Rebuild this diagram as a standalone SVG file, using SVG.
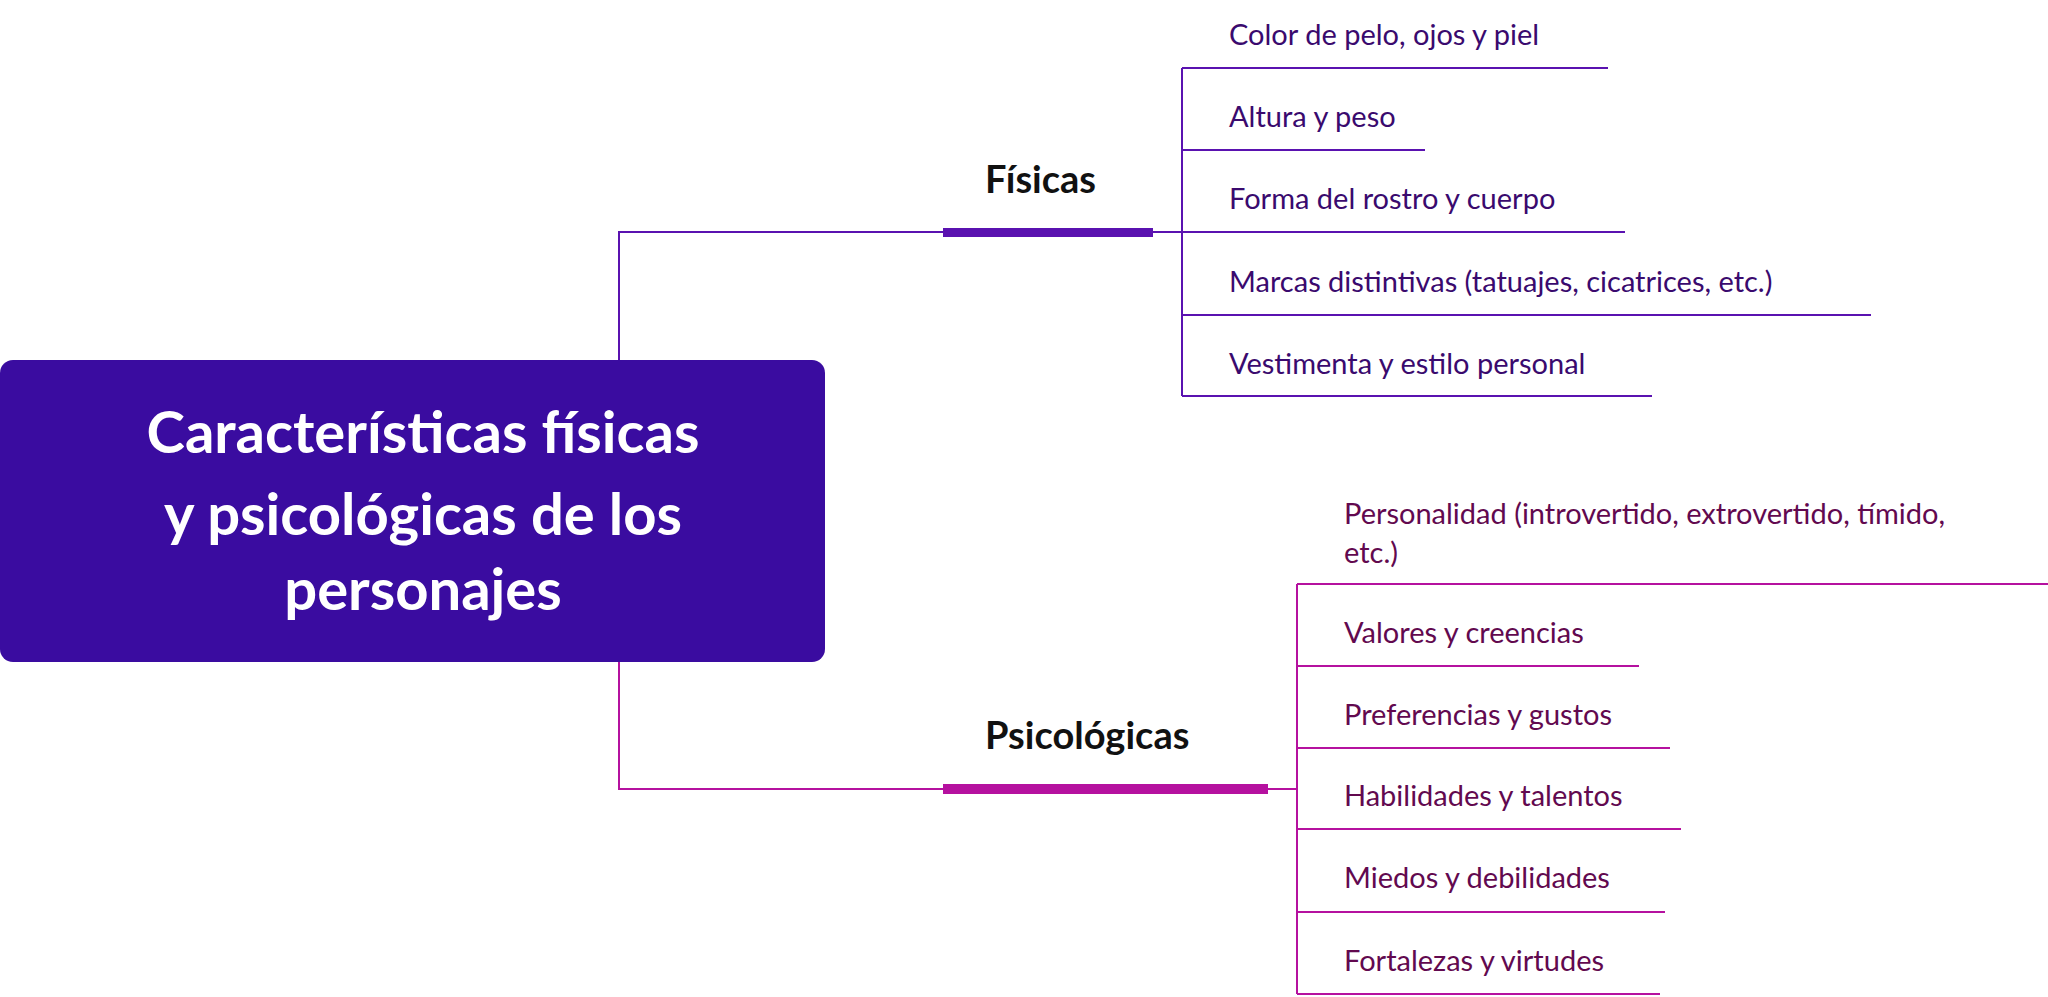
<svg xmlns="http://www.w3.org/2000/svg" width="2048" height="997" viewBox="0 0 2048 997">
<style>
.t{font-family:Lato,"Open Sans",sans-serif;}
.title{font-size:58px;font-weight:bold;fill:#fff;text-anchor:middle}
.br{font-size:38px;font-weight:bold;fill:#111}
.p{font-size:29px;fill:#3a0a6e}
.q{font-size:29px;fill:#62094f}
.lp{stroke:#5a12b0;stroke-width:2;fill:none}
.lq{stroke:#b5119f;stroke-width:2;fill:none}
</style>
<rect width="2048" height="997" fill="#fff"/>
<g id="connectors">
<path class="lp" d="M619 360 V232 H1182"/>
<rect x="943" y="228" width="210" height="9" fill="#5a12b0"/>
<path class="lp" d="M1182 68 V396 M1182 68 H1608 M1182 150 H1425 M1182 232 H1625 M1182 315 H1871 M1182 396 H1652"/>
<path class="lq" d="M619 662 V789 H1297"/>
<rect x="943" y="784" width="325" height="10" fill="#b5119f"/>
<path class="lq" d="M1297 584 V994 M1297 584 H2048 M1297 666 H1639 M1297 748 H1670 M1297 829 H1681 M1297 912 H1665 M1297 994 H1660"/>
</g>
<g id="root">
<rect x="0" y="360" width="825" height="302" rx="13" fill="#3a0ca0"/>
<text class="t title" x="423"><tspan x="423" y="453">Características físicas</tspan><tspan x="423" y="535">y psicológicas de los</tspan><tspan x="423" y="610">personajes</tspan></text>
</g>
<g id="fisicas"><text class="t br" x="985" y="193">Físicas</text></g>
<g id="psicologicas"><text class="t br" x="985" y="749">Psicológicas</text></g>
<g id="f1"><text class="t p" x="1229" y="45">Color de pelo, ojos y piel</text></g>
<g id="f2"><text class="t p" x="1229" y="127">Altura y peso</text></g>
<g id="f3"><text class="t p" x="1229" y="209">Forma del rostro y cuerpo</text></g>
<g id="f4"><text class="t p" x="1229" y="292">Marcas distintivas (tatuajes, cicatrices, etc.)</text></g>
<g id="f5"><text class="t p" x="1229" y="374">Vestimenta y estilo personal</text></g>
<g id="p1"><text class="t q" x="1344"><tspan x="1344" y="524">Personalidad (introvertido, extrovertido, tímido,</tspan><tspan x="1344" y="563">etc.)</tspan></text></g>
<g id="p2"><text class="t q" x="1344" y="643">Valores y creencias</text></g>
<g id="p3"><text class="t q" x="1344" y="725">Preferencias y gustos</text></g>
<g id="p4"><text class="t q" x="1344" y="806">Habilidades y talentos</text></g>
<g id="p5"><text class="t q" x="1344" y="888">Miedos y debilidades</text></g>
<g id="p6"><text class="t q" x="1344" y="971">Fortalezas y virtudes</text></g>
</svg>
